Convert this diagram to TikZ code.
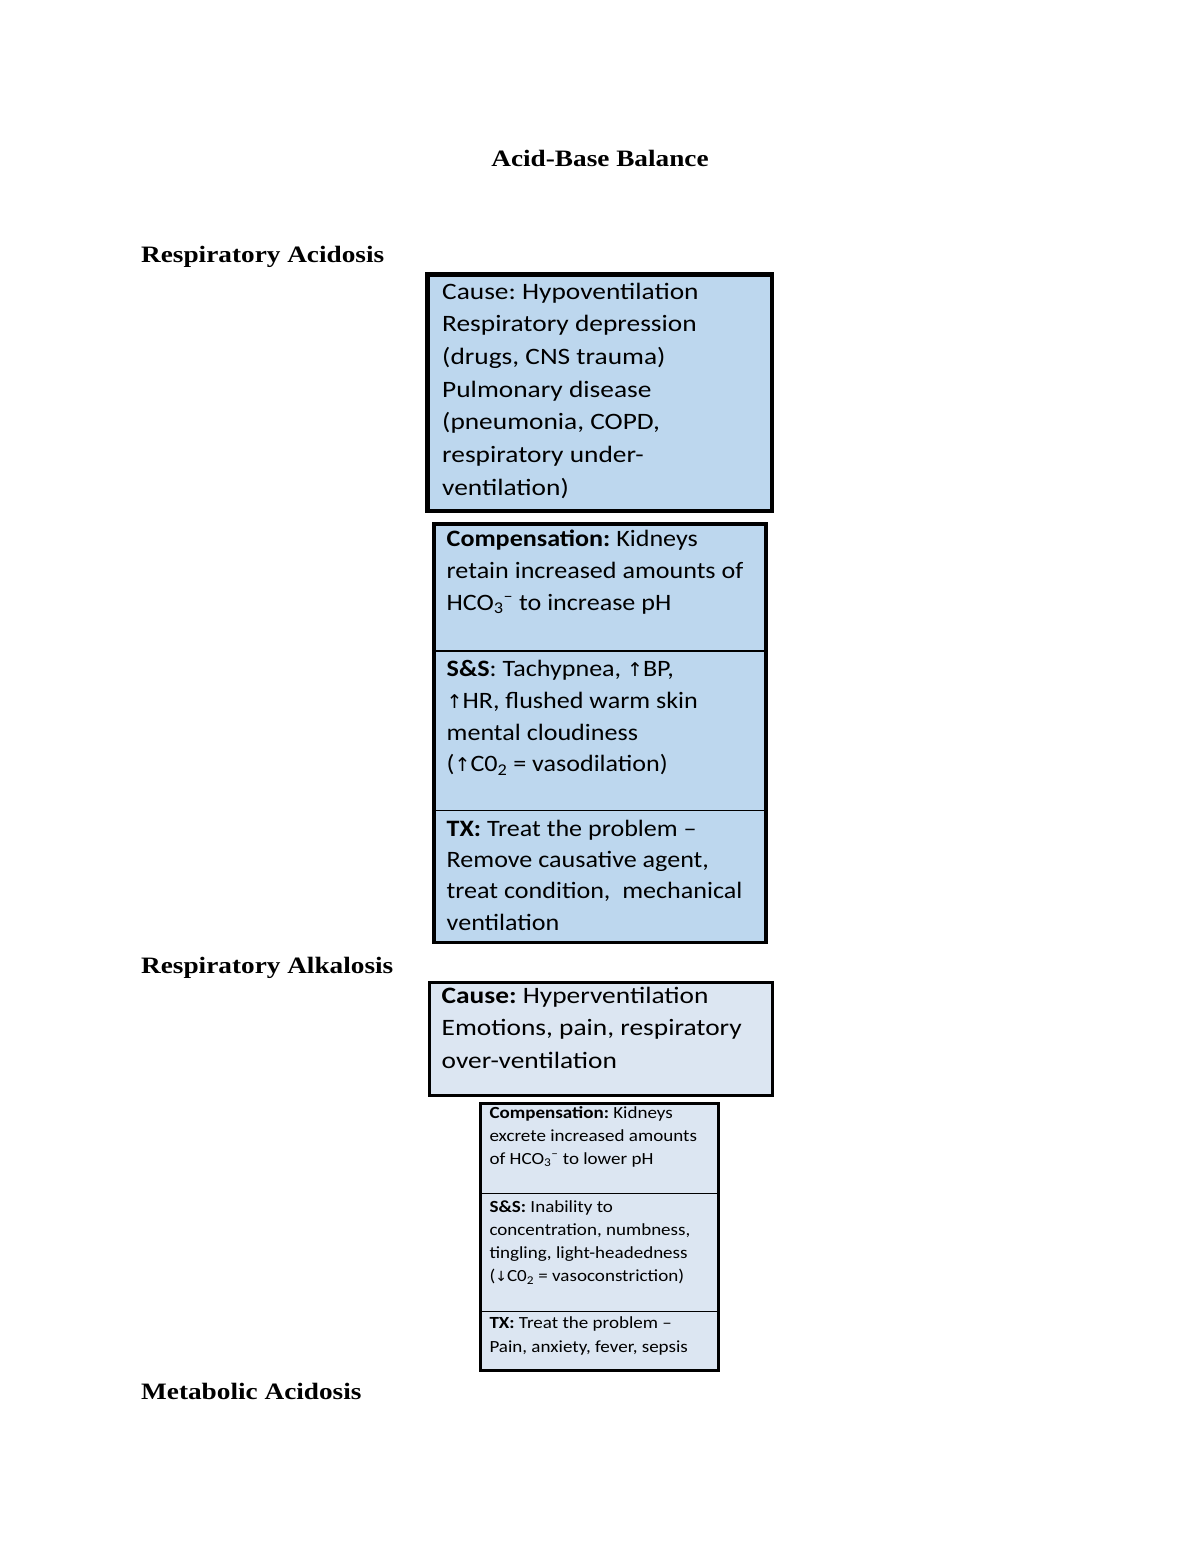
\documentclass[tikz,border=0pt]{standalone}
\usepackage{fontspec}
\setmainfont{Carlito}
\newfontfamily\headfont[FakeStretch=1.16]{Liberation Serif}
\newfontfamily\boxA[FakeStretch=1.165]{Carlito}
\newfontfamily\boxB[FakeStretch=1.11]{Carlito}
\newfontfamily\boxC[FakeStretch=1.12]{Carlito}
\newfontfamily\arrfont{DejaVu Sans}
\definecolor{fillA}{RGB}{189,215,238}
\definecolor{fillB}{RGB}{220,230,242}
\newcommand{\upar}{{\arrfont\fontsize{19}{20}\selectfont↑}}
\newcommand{\dnar}{{\arrfont\fontsize{14}{16}\selectfont↓}}
\frenchspacing
\begin{document}
\begin{tikzpicture}[x=1pt,y=-1pt,
  head/.style={anchor=base west,inner sep=0pt,font=\headfont\bfseries\fontsize{23.5}{28}\selectfont},
  bigA/.style={anchor=base west,inner sep=0pt,font=\boxA\fontsize{23.5}{28}\selectfont},
  bigB/.style={anchor=base west,inner sep=0pt,font=\boxB\fontsize{23.5}{28}\selectfont},
  small/.style={anchor=base west,inner sep=0pt,font=\boxC\fontsize{17}{20}\selectfont},
  thickbox/.style={draw=black,line width=4.5pt,fill=fillA},
  midbox/.style={draw=black,line width=3.8pt,fill=fillA},
  thinbox/.style={draw=black,line width=3pt,fill=fillB},
  divider/.style={draw=black,line width=1.4pt}]
\useasboundingbox[fill=white] (0,0) rectangle (1200,1553);

\node[head,anchor=base] (title) at (600,166) {Acid-Base Balance};
\node[head] (h1) at (141,262) {Respiratory Acidosis};
\node[head] (h2) at (141,973) {Respiratory Alkalosis};
\node[head] (h3) at (141,1399) {Metabolic Acidosis};

% Box 1
\path[thickbox] (427.3,274.5) rectangle (771.8,511.2);
\node[bigA] (a0) at (442,299) {Cause: Hypoventilation};
\node[bigA] (a1) at (442,331.7) {Respiratory depression};
\node[bigA] (a2) at (442,364.4) {(drugs, CNS trauma)};
\node[bigA] (a3) at (442,397.1) {Pulmonary disease};
\node[bigA] (a4) at (442,429.8) {(pneumonia, COPD,};
\node[bigA] (a5) at (442,462.5) {respiratory under-};
\node[bigA] (a6) at (442,495.2) {ventilation)};

% Box 2
\path[midbox] (433.7,523.7) rectangle (765.6,942.4);
\draw[divider] (433.7,651) -- (765.6,651);
\draw[divider] (433.7,810.5) -- (765.6,810.5);
\node[bigB] (b0) at (446.5,546.7) {\textbf{Compensation:} Kidneys};
\node[bigB] (b1) at (446.5,578.4) {retain increased amounts of};
\node[bigB] (b2) at (446.5,610.1) {HCO\textsubscript{3}\textsuperscript{–} to increase pH};
\node[bigB] (b3) at (446.5,676.7) {\textbf{S\&S}: Tachypnea, \upar BP,};
\node[bigB] (b4) at (446.5,708.4) {\upar HR, flushed warm skin};
\node[bigB] (b5) at (446.5,740.1) {mental cloudiness};
\node[bigB] (b6) at (446.5,771.8) {(\upar C0\textsubscript{2} = vasodilation)};
\node[bigB] (b7) at (446.5,836.7) {\textbf{TX:} Treat the problem –};
\node[bigB] (b8) at (446.5,867.8) {Remove causative agent,};
\node[bigB] (b9) at (446.5,898.9) {treat condition,\ \ mechanical};
\node[bigB] (b10) at (446.5,930) {ventilation};

% Box 3
\path[thinbox] (429,982.7) rectangle (772,1095);
\node[bigA] (c0) at (441.5,1003.3) {\textbf{Cause:} Hyperventilation};
\node[bigA] (c1) at (441.5,1035.8) {Emotions, pain, respiratory};
\node[bigA] (c2) at (441.5,1068.3) {over-ventilation};

% Box 4
\path[thinbox] (480,1103) rectangle (718.3,1370);
\draw[divider] (480,1193.3) -- (718.3,1193.3);
\draw[divider] (480,1311.7) -- (718.3,1311.7);
\node[small] (d0) at (489.3,1118.3) {\textbf{Compensation:} Kidneys};
\node[small] (d1) at (489.3,1141.2) {excrete increased amounts};
\node[small] (d2) at (489.3,1164.1) {of HCO\textsubscript{3}\textsuperscript{–}\ to lower pH};
\node[small] (d3) at (489.3,1212.3) {\textbf{S\&S:} Inability to};
\node[small] (d4) at (489.3,1235.4) {concentration, numbness,};
\node[small] (d5) at (489.3,1258.5) {tingling, light-headedness};
\node[small] (d6) at (489.3,1281.6) {(\dnar C0\textsubscript{2} = vasoconstriction)};
\node[small] (d7) at (489.3,1328.3) {\textbf{TX:} Treat the problem –};
\node[small] (d8) at (489.3,1352) {Pain, anxiety, fever, sepsis};
\end{tikzpicture}
\end{document}
